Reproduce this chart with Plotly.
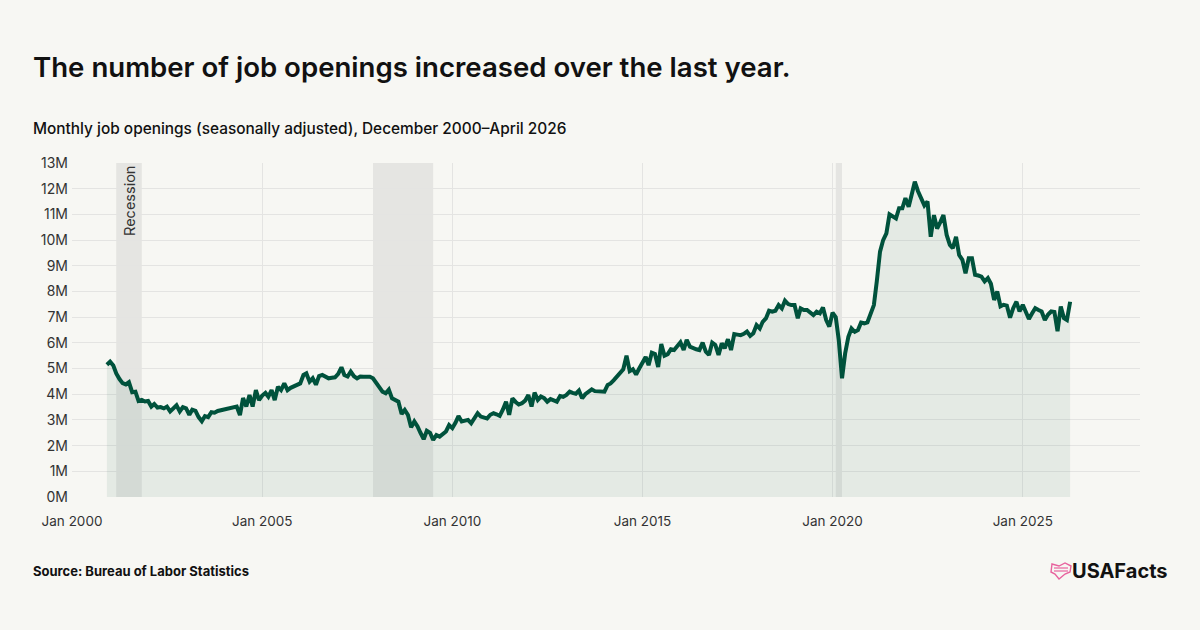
import pandas as pd
import plotly.graph_objects as go

# Monthly job openings, millions (seasonally adjusted), Dec 2000 - Apr 2026
openings_2000 = [5.15]
openings_2001 = [5.27, 5.12, 4.81, 4.59, 4.43, 4.38, 4.47, 4.08, 4.10, 3.74, 3.78, 3.72]
openings_2002 = [3.74, 3.52, 3.62, 3.48, 3.50, 3.45, 3.52, 3.33, 3.45, 3.57, 3.33, 3.50]
openings_2003 = [3.45, 3.20, 3.40, 3.35, 3.11, 2.95, 3.15, 3.11, 3.30, 3.28, 3.35, 3.38]
openings_2004 = [3.40, 3.45, 3.48, 3.50, 3.52, 3.19, 3.85, 3.52, 3.97, 3.52, 4.16, 3.77]
openings_2005 = [3.95, 4.05, 3.90, 4.16, 3.77, 4.29, 4.16, 4.42, 4.16, 4.25, 4.30, 4.37]
openings_2006 = [4.42, 4.75, 4.81, 4.49, 4.62, 4.37, 4.71, 4.75, 4.70, 4.62, 4.64, 4.66]
openings_2007 = [4.79, 5.05, 4.75, 4.69, 4.88, 4.70, 4.62, 4.69, 4.68, 4.69, 4.68, 4.62]
openings_2008 = [4.42, 4.23, 4.10, 4.04, 4.18, 3.84, 3.78, 3.71, 3.23, 3.39, 3.19, 2.71]
openings_2009 = [2.94, 2.75, 2.50, 2.25, 2.58, 2.50, 2.22, 2.41, 2.35, 2.45, 2.55, 2.80]
openings_2010 = [2.68, 2.90, 3.15, 2.94, 2.98, 3.00, 2.87, 3.05, 3.26, 3.13, 3.10, 3.06]
openings_2011 = [3.20, 3.26, 3.22, 3.16, 3.40, 3.71, 3.20, 3.84, 3.70, 3.60, 3.65, 3.75]
openings_2012 = [3.97, 3.52, 4.06, 3.78, 3.91, 3.85, 3.71, 3.81, 3.76, 3.71, 3.93, 3.90]
openings_2013 = [3.97, 4.10, 4.05, 4.02, 4.14, 3.84, 4.00, 4.10, 4.19, 4.12, 4.10, 4.10]
openings_2014 = [4.10, 4.36, 4.42, 4.55, 4.68, 4.82, 4.97, 5.50, 4.90, 4.97, 4.77, 5.00]
openings_2015 = [5.27, 5.45, 5.13, 5.62, 5.57, 5.06, 5.95, 5.50, 5.56, 5.75, 5.72, 5.85]
openings_2016 = [6.02, 5.72, 6.12, 5.85, 5.79, 5.75, 5.72, 6.01, 5.66, 5.53, 6.01, 5.92]
openings_2017 = [5.53, 5.98, 5.79, 6.14, 5.72, 6.34, 6.32, 6.30, 6.35, 6.44, 6.27, 6.37]
openings_2018 = [6.69, 6.56, 6.82, 6.95, 7.25, 7.21, 7.25, 7.47, 7.34, 7.64, 7.51, 7.47]
openings_2019 = [7.47, 6.96, 7.34, 7.28, 7.28, 7.20, 7.08, 7.21, 7.15, 7.38, 6.89, 6.63]
openings_2020 = [7.17, 7.00, 6.10, 4.62, 5.59, 6.24, 6.56, 6.43, 6.50, 6.79, 6.76, 6.80]
openings_2021 = [7.10, 7.47, 8.40, 9.55, 10.00, 10.26, 11.00, 10.92, 10.84, 11.24, 11.24, 11.63]
openings_2022 = [11.30, 11.80, 12.27, 11.90, 11.63, 11.35, 11.50, 10.13, 10.97, 10.45, 10.70, 10.97]
openings_2023 = [10.20, 9.81, 9.68, 10.13, 9.42, 9.23, 8.71, 9.29, 9.29, 8.65, 8.62, 8.58]
openings_2024 = [8.39, 8.52, 8.30, 7.67, 8.00, 7.42, 7.48, 7.45, 6.98, 7.35, 7.60, 7.22]
openings_2025 = [7.48, 7.20, 6.93, 7.15, 7.35, 7.28, 7.22, 6.89, 7.10, 7.22, 7.20, 6.45]
openings_2026 = [7.41, 6.96, 6.89, 7.60]

openings = (openings_2000 + openings_2001 + openings_2002 + openings_2003 + openings_2004
            + openings_2005 + openings_2006 + openings_2007 + openings_2008 + openings_2009
            + openings_2010 + openings_2011 + openings_2012 + openings_2013 + openings_2014
            + openings_2015 + openings_2016 + openings_2017 + openings_2018 + openings_2019
            + openings_2020 + openings_2021 + openings_2022 + openings_2023 + openings_2024
            + openings_2025 + openings_2026)
dates = pd.date_range("2000-12-01", periods=len(openings), freq="MS")

recession_starts = ["2001-03-01", "2007-12-01", "2020-02-01"]
recession_ends = ["2001-11-01", "2009-07-01", "2020-04-01"]

y_ticks = list(range(0, 14))
y_tick_labels = [f"{v}M" for v in y_ticks]
x_ticks = ["2000-01-01", "2005-01-01", "2010-01-01", "2015-01-01", "2020-01-01", "2025-01-01"]
x_tick_labels = ["Jan 2000", "Jan 2005", "Jan 2010", "Jan 2015", "Jan 2020", "Jan 2025"]

BG = "#f7f7f3"
LINE = "#00523c"
FONT = "Inter"
W, H = 1200, 630
ML, MR, MT, MB = 72, 60, 163, 133
PW, PH = W - ML - MR, H - MT - MB


def paper(xp, yp):
    """convert page pixels to paper coords (for decoration placement only)"""
    return (xp - ML) / PW, ((H - yp) - MB) / PH


fig = go.Figure()
fig.add_trace(go.Scatter(
    x=dates, y=openings, mode="lines",
    line=dict(color=LINE, width=4, shape="linear"),
    fill="tozeroy", fillcolor="rgba(0,82,60,0.075)",
    hoverinfo="skip", showlegend=False,
))

for s, e in zip(recession_starts, recession_ends):
    fig.add_shape(type="rect", xref="x", yref="y", x0=s, x1=e, y0=0, y1=13,
                  fillcolor="rgba(60,60,50,0.09)", line=dict(width=0), layer="below")

fig.add_annotation(x="2001-07-01", y=13, xref="x", yref="y", text="Recession",
                   textangle=-90, showarrow=False, xanchor="center", yanchor="top",
                   yshift=-1, font=dict(family=FONT, size=14.5, color="#333333"))

fig.update_layout(
    width=W, height=H,
    paper_bgcolor=BG, plot_bgcolor=BG,
    margin=dict(l=ML, r=MR, t=MT, b=MB),
    font=dict(family=FONT, color="#222222"),
    xaxis=dict(
        type="date", range=["2000-01-01", "2028-02-01"],
        tickvals=x_ticks, ticktext=x_tick_labels,
        showgrid=True, gridcolor="#e4e4e2", gridwidth=1,
        zeroline=False, showline=False, ticks="",
        ticklabelstandoff=14,
        tickfont=dict(family=FONT, size=13.5, color="#333333"),
    ),
    yaxis=dict(
        range=[0, 13], tickvals=y_ticks, ticktext=y_tick_labels,
        showgrid=True, gridcolor="#e4e4e2", gridwidth=1,
        zeroline=False, showline=False, ticks="",
        tickfont=dict(family=FONT, size=14, color="#333333"),
        ticklabelstandoff=3,
    ),
)

tx, ty = paper(31, 67)
fig.add_annotation(xref="paper", yref="paper", x=tx, y=ty,
                   text="The number of job openings increased over the last year.",
                   showarrow=False, xanchor="left", yanchor="middle",
                   font=dict(family=FONT, size=27.6, color="#111111", weight=600))
sx, sy = paper(31, 128)
fig.add_annotation(xref="paper", yref="paper", x=sx, y=sy,
                   text="Monthly job openings (seasonally adjusted), December 2000\u2013April 2026",
                   showarrow=False, xanchor="left", yanchor="middle",
                   font=dict(family=FONT, size=15.4, color="#111111", weight=500))
cx, cy = paper(31, 571)
fig.add_annotation(xref="paper", yref="paper", x=cx, y=cy,
                   text="<b>Source: Bureau of Labor Statistics</b>",
                   showarrow=False, xanchor="left", yanchor="middle",
                   font=dict(family=FONT, size=13, color="#111111"))
lx, ly = paper(1170, 571)
fig.add_annotation(xref="paper", yref="paper", x=lx, y=ly,
                   text="<b>USAFacts</b>",
                   showarrow=False, xanchor="right", yanchor="middle",
                   font=dict(family=FONT, size=20, color="#111111"))

# small pink logo mark
pts = [(1052, 564), (1059, 566), (1065, 563), (1071, 566), (1070, 572), (1065, 574),
       (1059, 579), (1055, 574), (1051, 572), (1052, 564)]
path = "M " + " L ".join(f"{paper(a, b)[0]:.5f},{paper(a, b)[1]:.5f}" for a, b in pts) + " Z"
fig.add_shape(type="path", xref="paper", yref="paper", path=path,
              line=dict(color="#e8629e", width=1.4), fillcolor="rgba(0,0,0,0)")
for yy in (568, 571):
    a0, a1 = paper(1054, yy), paper(1068, yy)
    fig.add_shape(type="line", xref="paper", yref="paper", x0=a0[0], y0=a0[1], x1=a1[0], y1=a1[1],
                  line=dict(color="#e8629e", width=1.2))

fig.write_html("out.html")
